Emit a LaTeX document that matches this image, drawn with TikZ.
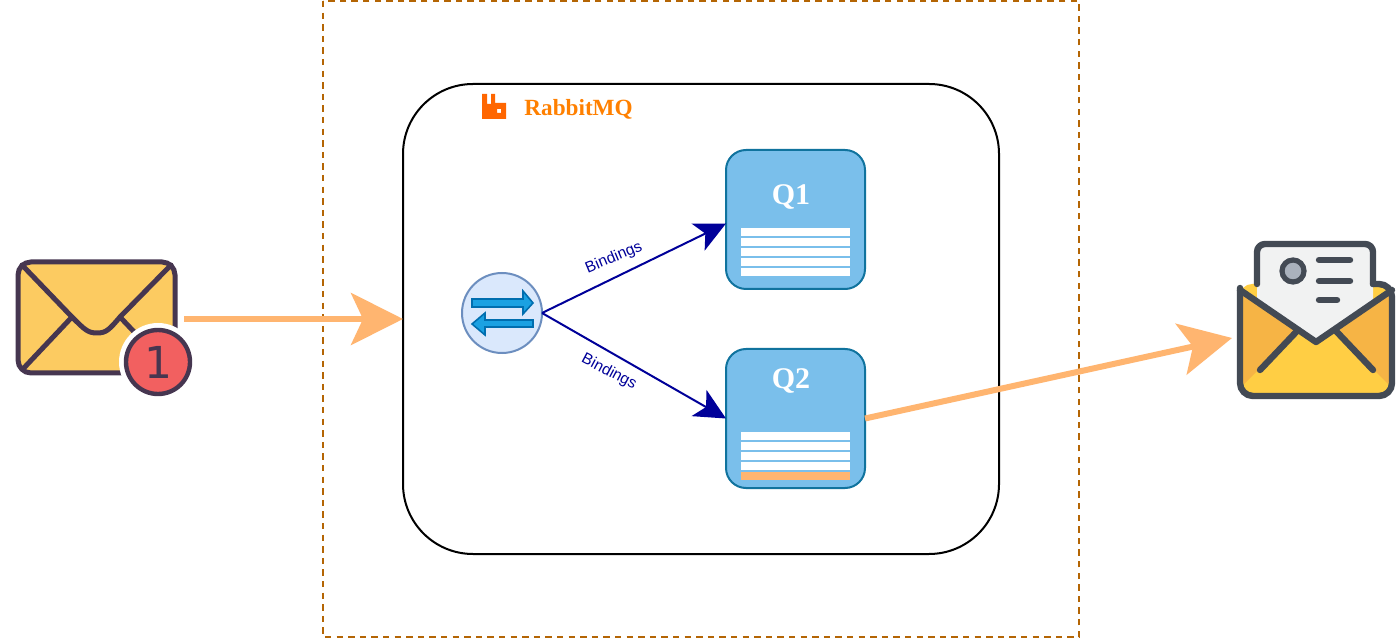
\documentclass[tikz,border=0pt]{standalone}
\usepackage{fontspec}
\setmainfont{Liberation Serif}
\newfontfamily\labelfont{Liberation Sans}
\newfontfamily\digitfont{DejaVu Sans}
\usetikzlibrary{arrows.meta,calc}
\definecolor{framec}{HTML}{B46504}
\definecolor{qfill}{HTML}{7ABFEB}
\definecolor{qline}{HTML}{10739E}
\definecolor{flow}{HTML}{FFB570}
\definecolor{navyc}{HTML}{000099}
\definecolor{rabbitc}{HTML}{FF6600}
\definecolor{rabbitt}{HTML}{FF8000}
\definecolor{purp}{HTML}{463650}
\definecolor{envy}{HTML}{FCCB61}
\definecolor{badge}{HTML}{F26060}
\definecolor{slate}{HTML}{434A54}
\definecolor{envo}{HTML}{F6B445}
\definecolor{envl}{HTML}{FFCE44}
\definecolor{paper}{HTML}{F1F2F2}
\definecolor{dotc}{HTML}{AAB2BD}
\definecolor{xblue}{HTML}{1BA1E2}
\definecolor{xline}{HTML}{006EAF}
\definecolor{exfill}{HTML}{DAE8FC}
\definecolor{exline}{HTML}{6C8EBF}
\tikzset{
  x=0.5pt,y=-0.5pt,
  qbox/.style={draw=qline,fill=qfill,line width=1pt,rounded corners=10pt,minimum width=69.5pt,minimum height=69.5pt,inner sep=0,outer sep=0},
  qtitle/.style={text=white,font=\fontsize{15}{17}\selectfont\bfseries,anchor=base,inner sep=0},
  bindarrow/.style={draw=navyc,line width=1pt,-{Stealth[length=15.5pt,width=15pt,inset=4pt,fill=navyc]}},
  flowarrow/.style={draw=flow,line width=3pt,-{Stealth[length=26pt,width=26pt,inset=6pt,fill=flow]}},
  bindlabel/.style={text=navyc,font=\labelfont\fontsize{7.8}{9}\selectfont,inner sep=0},
  slot/.style={fill=white,draw=none},
  xarrow/.style={fill=xblue,draw=xline,line width=.8pt},
  iconmark/.style={slate,line width=3.2pt,line cap=round,line join=round},
}
\begin{document}
\begin{tikzpicture}
\useasboundingbox (0,0) rectangle (1400,640);
\fill[white] (0,0) rectangle (1400,640);
% dashed frame
\draw[framec,line width=1pt,dash pattern=on 3.2pt off 2.6pt] (323,1) rectangle (1079,637);
% RabbitMQ container
\node[draw=black,line width=1pt,rounded corners=35pt,minimum width=298pt,minimum height=235pt,inner sep=0,outer sep=0] (broker) at (701,319) {};
\fill[rabbitc,even odd rule] (482,94)--(487,94)--(487,104)--(491,104)--(491,94)--(495,94)--(495,103)--(506,103)--(506,119)--(482,119)--cycle (497,109) rectangle (501,113);
\node[anchor=base west,inner sep=0,text=rabbitt,font=\fontsize{11.6}{14}\selectfont\bfseries] (brand) at (524,116) {RabbitMQ};
% exchange
\node[circle,draw=exline,fill=exfill,line width=1pt,minimum size=80*0.5pt,inner sep=0,outer sep=0] (exch) at (502,313) {};
\draw[xarrow] (472,299)--(523,299)--(523,291)--(533,303)--(523,314)--(523,307)--(472,307)--cycle;
\draw[xarrow] (533,320)--(485,320)--(485,313)--(472,324)--(485,335)--(485,327)--(533,327)--cycle;
% queues
\node[qbox] (q1) at (795.5,219.5) {};
\node[qtitle] (q1t) at (791,205) {Q1};
\foreach \yy in {228,238,248,258,268} \fill[slot] (741,\yy) rectangle (850,\yy+8.3);
\node[qbox] (q2) at (795.5,418.5) {};
\node[qtitle] (q2t) at (791,388.5) {Q2};
\foreach \yy in {432,442,452,462} \fill[slot] (741,\yy) rectangle (850,\yy+8.3);
\fill[flow] (741,472) rectangle (850,480);
% incoming mail icon
\node[inner sep=0,outer sep=0,minimum width=84pt,minimum height=59pt] (mailin) at (100,319) {};
\draw[purp,fill=envy,line width=2.5pt,rounded corners=6.5pt] (18,262) rectangle (175,373);
\draw[purp,line width=2.5pt,line cap=round,line join=round] (22,265)--(72,317) .. controls (85,330) and (88,333) .. (97,333) .. controls (106,333) and (109,330) .. (120,317) -- (171,265);
\draw[purp,line width=2.5pt] (72,317)--(22,370) (120,317)--(138,336);
\fill[white] (158,362) circle[radius=39];
\draw[purp,fill=badge,line width=2.2pt] (158,362) circle[radius=32];
\node[text=purp,inner sep=0,font=\digitfont\fontsize{22}{24}\selectfont] (one) at (158,362) {1};
% outgoing mail icon
\node[inner sep=0,outer sep=0,minimum width=82pt,minimum height=62pt] (mailout) at (1314,338) {};
\fill[envl,rounded corners=6pt] (1240,284) rectangle (1392,396);
\fill[envo] (1240,292)--(1298,330)--(1244,384)--(1240,375)--cycle;
\fill[envo] (1392,292)--(1335,330)--(1388,384)--(1392,375)--cycle;
\fill[paper] (1257,244)--(1373,244)--(1373,303)--(1316,342)--(1257,302)--cycle;
\draw[iconmark,rounded corners=4pt] (1257,284)--(1257,244)--(1373,244)--(1373,284);
\draw[iconmark,rounded corners=6.5pt] (1373,284)--(1392,284)--(1392,396)--(1240,396)--(1240,288);
\draw[iconmark] (1240,290)--(1316,342)--(1392,290);
\draw[iconmark] (1260,370)--(1298,330) (1335,330)--(1373,370);
\draw[slate,fill=dotc,line width=2.6pt] (1293,271) circle[radius=11];
\draw[iconmark] (1319,260)--(1350,260) (1319,281)--(1350,281) (1319,300)--(1337,300);
% connectors
\draw[flowarrow] (mailin.east) -- (broker.west);
\draw[flowarrow] (q2.east) -- (mailout.west);
\draw[bindarrow] (exch.east) -- ([yshift=-2pt]q1.west);
\draw[bindarrow] (exch.east) -- (q2.west);
\node[bindlabel,rotate=22.6] (b1) at (614,258) {Bindings};
\node[bindlabel,rotate=-28] (b2) at (609,372) {Bindings};
\end{tikzpicture}
\end{document}
